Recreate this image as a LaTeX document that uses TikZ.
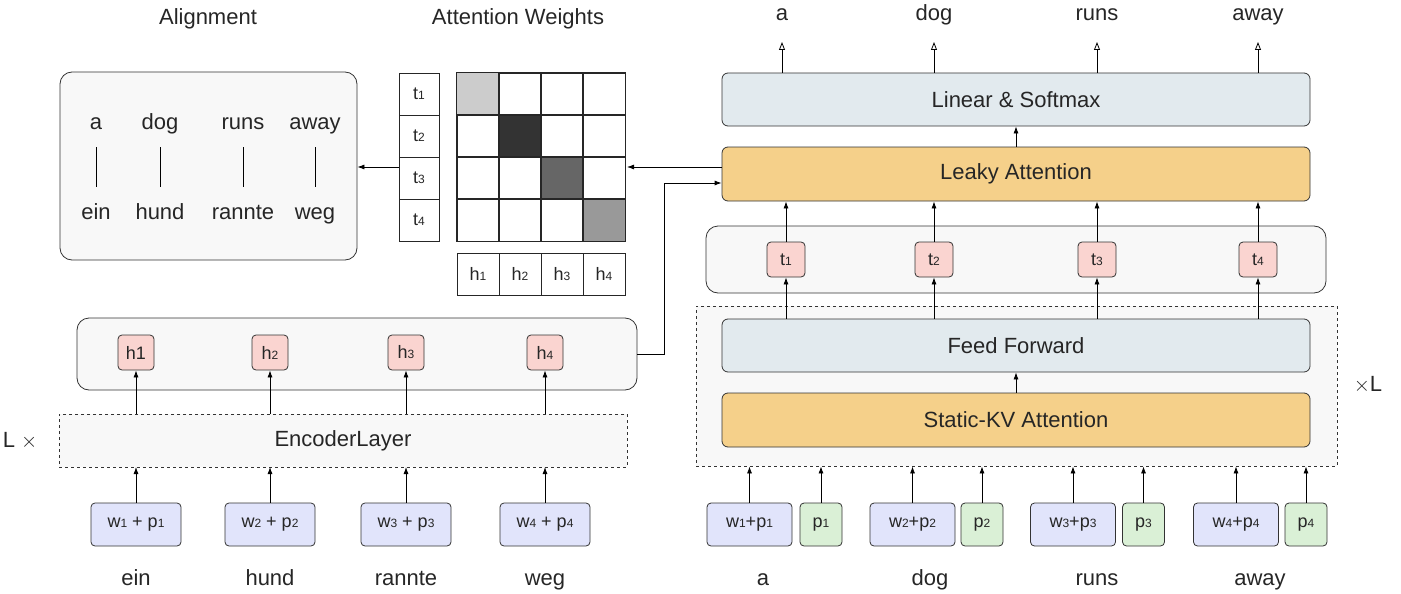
\documentclass[tikz,border=0pt]{standalone}
\usepackage{fontspec}
\setmainfont{Liberation Sans}
\usetikzlibrary{arrows.meta}
\newcommand{\sbs}[1]{{\fontsize{12}{13}\selectfont #1}}
\definecolor{cOr}{HTML}{F5D08A}
\definecolor{cGb}{HTML}{E2EAEE}
\definecolor{cPk}{HTML}{FAD4D0}
\definecolor{cBl}{HTML}{E1E4FB}
\definecolor{cGr}{HTML}{DAF0D6}
\definecolor{cCt}{HTML}{F8F8F8}
\begin{document}
\begin{tikzpicture}[x=1pt,y=-1pt,
 every node/.style={font=\fontsize{22}{26}\selectfont, text=black!85},
 wd/.style={anchor=base, yshift=-7pt},
 rbox/.style={draw=black!80, rounded corners=6pt, line width=0.8pt, inner sep=0pt},
 sbox/.style={rbox, rounded corners=4pt, font=\fontsize{18}{20}\selectfont},
 cell/.style={draw=black!85, line width=0.8pt, minimum width=42pt, minimum height=42pt, inner sep=0pt, font=\fontsize{18}{20}\selectfont},
 arr/.style={-{Latex[length=7pt,width=5pt]}, line width=0.8pt},
 oarr/.style={-{Triangle[open,length=8pt,width=6pt]}, line width=0.8pt},
 dbox/.style={draw=black!80, dashed, line width=0.8pt, fill=cCt}]
\useasboundingbox (0,0) rectangle (1401,594);
% titles
\node[wd] (tal) at (208,18) {Alignment};
\node[wd] (taw) at (518,18) {Attention Weights};
% alignment box
\node[rbox, fill=cCt, rounded corners=12pt, minimum width=297pt, minimum height=188pt] (alg) at (208.5,166) {};
\foreach \x/\a/\b [count=\i] in {96/a/ein,160/dog/hund,243/runs/rannte,315/away/weg}{
  \node[wd] (aa\i) at (\x,122) {\a};
  \node[wd] (ab\i) at (\x,212) {\b};
  \draw[line width=0.8pt] (\x,147) -- (\x,187);
}
% t column, matrix, h row
\foreach \i in {1,...,4}{
  \node[cell, minimum width=40pt] (tc\i) at (419,52+42*\i) {t\sbs{\i}};
  \node[cell] (hc\i) at (436+42*\i,274) {h\sbs{\i}};
  \foreach \j in {1,...,4}{
    \node[cell] (m\i\j) at (436+42*\j,52+42*\i) {};
  }
}
\fill[black!20] (m11.south west) rectangle (m11.north east);
\fill[black!80] (m22.south west) rectangle (m22.north east);
\fill[black!60] (m33.south west) rectangle (m33.north east);
\fill[black!40] (m44.south west) rectangle (m44.north east);
\foreach \i in {1,...,4}{\foreach \j in {1,...,4}{\draw[line width=0.8pt,black!85] (m\i\j.south west) rectangle (m\i\j.north east);}}
\draw[arr] (tc3.west |- 0,167) -- (alg.east |- 0,167);
% right decoder
\node[rbox, fill=cGb, minimum width=588pt, minimum height=53pt] (lin) at (1016,99.5) {Linear \& Softmax};
\node[rbox, fill=cOr, minimum width=588pt, minimum height=54pt] (leak) at (1016,174) {Leaky Attention};
\coordinate (mr) at (627,167);
\draw[arr] (leak.west |- mr) -- (mr);
\draw[arr] (leak.north) -- (lin.south);
\foreach \x/\w [count=\i] in {782/a,934/dog,1097/runs,1258/away}{
  \node[wd] (o\i) at (\x,14) {\w};
  \coordinate (oc\i) at (\x,42);
  \draw[oarr] (\x,73) -- (oc\i);
}
\node[rbox, fill=cCt, rounded corners=12pt, minimum width=620pt, minimum height=67pt] (tcont) at (1016,259.5) {};
\node[dbox, minimum width=641pt, minimum height=160pt] (dec) at (1016.5,386) {};
\node[rbox, fill=cGb, minimum width=588pt, minimum height=53pt] (ff) at (1016,345.5) {Feed Forward};
\node[rbox, fill=cOr, minimum width=588pt, minimum height=54pt] (skv) at (1016,420) {Static-KV Attention};
\draw[arr] (skv.north) -- (ff.south);
\node (xl) at (1368,385) {$\times$L};
\foreach \x [count=\i] in {786,934,1097,1258}{
  \node[sbox, fill=cPk, minimum width=38pt, minimum height=35pt] (t\i) at (\x,259.5) {t\sbs{\i}};
  \draw[arr] (t\i.north) -- (t\i.north |- leak.south);
  \draw[arr] (t\i.south |- ff.north) -- (t\i.south);
}
\foreach \xa/\xb/\w [count=\i] in {749.5/821/a,912.5/982/dog,1073/1143.5/runs,1236/1306/away}{
  \node[sbox, fill=cBl, minimum width=85pt, minimum height=43pt] (dw\i) at (\xa,524.5) {w\sbs{\i}+p\sbs{\i}};
  \node[sbox, fill=cGr, minimum width=42pt, minimum height=43pt] (dp\i) at (\xb,524.5) {p\sbs{\i}};
  \draw[arr] (dw\i.north) -- (dw\i.north |- dec.south);
  \draw[arr] (dp\i.north) -- (dp\i.north |- dec.south);
}
\foreach \x/\w [count=\i] in {763/a,930/dog,1097/runs,1260/away}{\node[wd] (dt\i) at (\x,578) {\w};}
% left encoder
\node[rbox, fill=cCt, rounded corners=12pt, minimum width=560pt, minimum height=72pt] (hcont) at (357,354) {};
\node[dbox, minimum width=568pt, minimum height=53pt] (enc) at (343,440.5) {EncoderLayer};
\node (lx) at (20,441) {L $\times$};
\foreach \x/\w [count=\i] in {136/ein,270/hund,406/rannte,545/weg}{
  \node[sbox, fill=cPk, minimum width=36pt, minimum height=35pt] (h\i) at (\x,352.5) {h\ifnum\i=1 1\else\sbs{\i}\fi};
  \draw[arr] (\x,414) -- (h\i.south);
  \node[sbox, fill=cBl, minimum width=90pt, minimum height=43pt] (ew\i) at (\x,524.5) {w\sbs{\i} + p\sbs{\i}};
  \draw[arr] (ew\i.north) -- (\x,467);
  \node[wd] (et\i) at (\x,578) {\w};
}
\draw[arr] (hcont.east) -- (664,354) -- (664,183) -- (leak.west |- 0,183);
\end{tikzpicture}
\end{document}
